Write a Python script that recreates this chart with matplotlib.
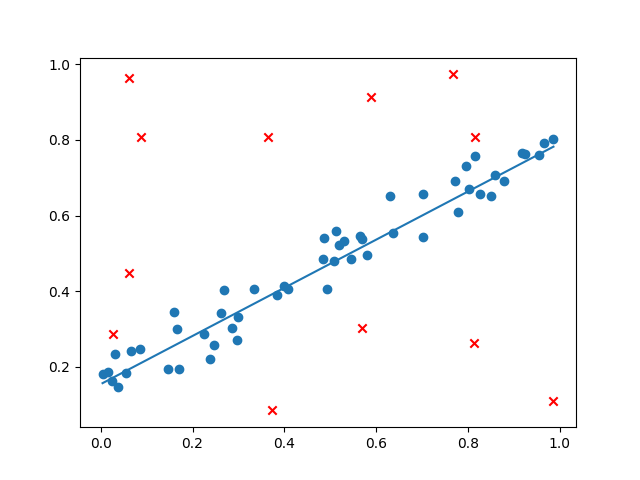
import numpy as np
import matplotlib
matplotlib.use("Agg")
import matplotlib.pyplot as plt

inlier_x = [0.004,0.015,0.024,0.031,0.037,0.055,0.066,0.086,0.147,0.160,0.167,0.171,0.224,0.239,0.246,0.261,0.268,0.285,0.296,0.298,0.333,0.384,0.399,0.408,0.487,0.485,0.493,0.509,0.513,0.520,0.529,0.546,0.564,0.570,0.581,0.629,0.636,0.702,0.702,0.771,0.779,0.795,0.801,0.815,0.826,0.850,0.859,0.879,0.917,0.925,0.955,0.966,0.986]
inlier_y = [0.181,0.187,0.163,0.235,0.147,0.184,0.243,0.248,0.195,0.344,0.299,0.195,0.288,0.221,0.259,0.342,0.403,0.302,0.270,0.331,0.406,0.390,0.414,0.406,0.540,0.484,0.406,0.481,0.559,0.521,0.532,0.484,0.545,0.537,0.497,0.652,0.553,0.658,0.542,0.692,0.609,0.732,0.671,0.757,0.658,0.652,0.706,0.692,0.765,0.762,0.759,0.791,0.802]
outlier_x = [0.026,0.061,0.088,0.061,0.364,0.373,0.588,0.570,0.768,0.815,0.813,0.986]
outlier_y = [0.286,0.963,0.807,0.449,0.807,0.085,0.912,0.302,0.973,0.807,0.264,0.109]
line_x = [0.004, 0.986]
line_y = [0.157, 0.782]

fig, ax = plt.subplots(figsize=(6.4, 4.8), dpi=100)
ax.scatter(inlier_x, inlier_y)
ax.scatter(outlier_x, outlier_y, c="red", marker="x")
ax.plot(line_x, line_y)
fig.savefig("out.png")
